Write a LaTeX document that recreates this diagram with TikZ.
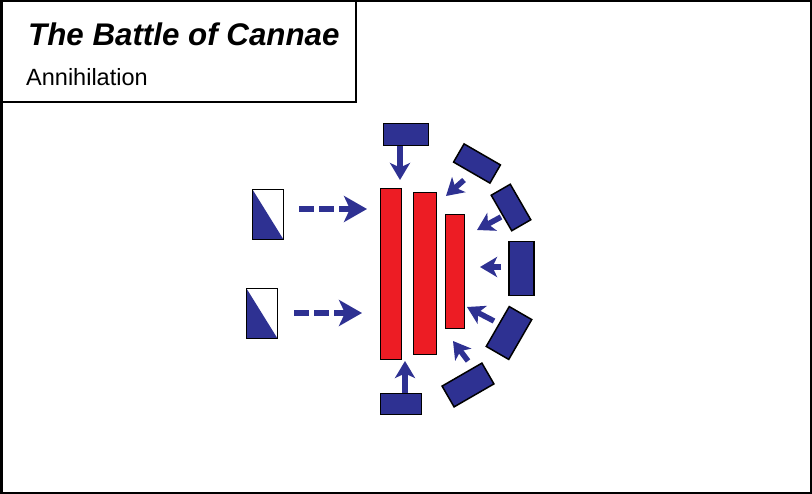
\documentclass[tikz,border=0pt]{standalone}
\usepackage{fontspec}
\setmainfont{Liberation Sans}
\usetikzlibrary{arrows.meta}
\definecolor{armyblue}{HTML}{2E3192}
\definecolor{armyred}{HTML}{ED1C24}

\begin{document}
\begin{tikzpicture}[x=1pt, y=-1pt,
  block/.style={draw=black, fill=armyred, line width=1.5pt, inner sep=0pt},
  unit/.style={draw=black, fill=armyblue, line width=1.5pt, inner sep=0pt},
  cav/.style={draw=black, fill=white, line width=1.5pt, inner sep=0pt, minimum width=31pt, minimum height=50pt,
    path picture={\fill[armyblue] (path picture bounding box.north west) -- (path picture bounding box.south west) -- (path picture bounding box.south east) -- cycle;}},
  arr/.style={-{Stealth[length=17pt, width=20pt, inset=4.5pt]}, armyblue, line width=5.5pt},
  darr/.style={-{Stealth[length=23pt, width=26pt, inset=6pt]}, armyblue, line width=6pt, dash pattern=on 15pt off 5pt},
]
  \useasboundingbox (0,0) rectangle (812,494);
  \draw[line width=2.5pt] (1.25,1.25) rectangle (810.75,492.75);

  % title
  \draw[line width=2pt] (1,1) rectangle (356,102);
  \node[anchor=base west, inner sep=0pt, font=\fontsize{31.3}{37}\selectfont\bfseries\itshape] (title) at (28,46) {The Battle of Cannae};
  \node[anchor=base west, inner sep=0pt, font=\fontsize{23.5}{28}\selectfont] (sub) at (26,86) {Annihilation};

  % Roman lines
  \node[block, minimum width=21pt, minimum height=171pt] (r1) at (391,274) {};
  \node[block, minimum width=23pt, minimum height=162pt] (r2) at (425,273.5) {};
  \node[block, minimum width=19pt, minimum height=114pt] (r3) at (455,271.5) {};

  % Carthaginian troops
  \node[unit, minimum width=45pt, minimum height=22pt] (top) at (406,134.5) {};
  \node[unit, minimum width=41pt, minimum height=21pt] (bot) at (401,404) {};
  \node[unit, minimum width=42pt, minimum height=21pt, rotate=-30] (w1) at (477,163.5) {};
  \node[unit, minimum width=41pt, minimum height=22pt, rotate=-60] (w2) at (511,207.5) {};
  \node[unit, minimum width=25pt, minimum height=54pt] (w3) at (521.5,268.5) {};
  \node[unit, minimum width=46pt, minimum height=26pt, rotate=60] (w4) at (509,333) {};
  \node[unit, minimum width=46pt, minimum height=24pt, rotate=30] (w5) at (468,385) {};
  \node[cav] (c1) at (268,214.5) {};
  \node[cav] (c2) at (262,313.5) {};

  % arrow ends
  \coordinate (t0) at (400,146);   \coordinate (t1) at (400,180);
  \coordinate (b0) at (405,393);   \coordinate (b1) at (405,361);
  \coordinate (c1a) at (299,209);  \coordinate (c1b) at (367,209);
  \coordinate (c2a) at (294,313);  \coordinate (c2b) at (362,313);
  \coordinate (w1a) at (464,180);  \coordinate (w1b) at (446,196);
  \coordinate (w2a) at (501,217);  \coordinate (w2b) at (477,230);
  \coordinate (w3a) at (501,267);  \coordinate (w3b) at (480,267);
  \coordinate (w4a) at (494,321);  \coordinate (w4b) at (467,307);
  \coordinate (w5a) at (468,361);  \coordinate (w5b) at (453,341);

  \draw[arr] (t0) -- (t1);
  \draw[arr] (b0) -- (b1);
  \draw[darr] (c1a) -- (c1b);
  \draw[darr] (c2a) -- (c2b);
  \draw[arr] (w1a) -- (w1b);
  \draw[arr] (w2a) -- (w2b);
  \draw[arr] (w3a) -- (w3b);
  \draw[arr] (w4a) -- (w4b);
  \draw[arr] (w5a) -- (w5b);
\end{tikzpicture}
\end{document}
